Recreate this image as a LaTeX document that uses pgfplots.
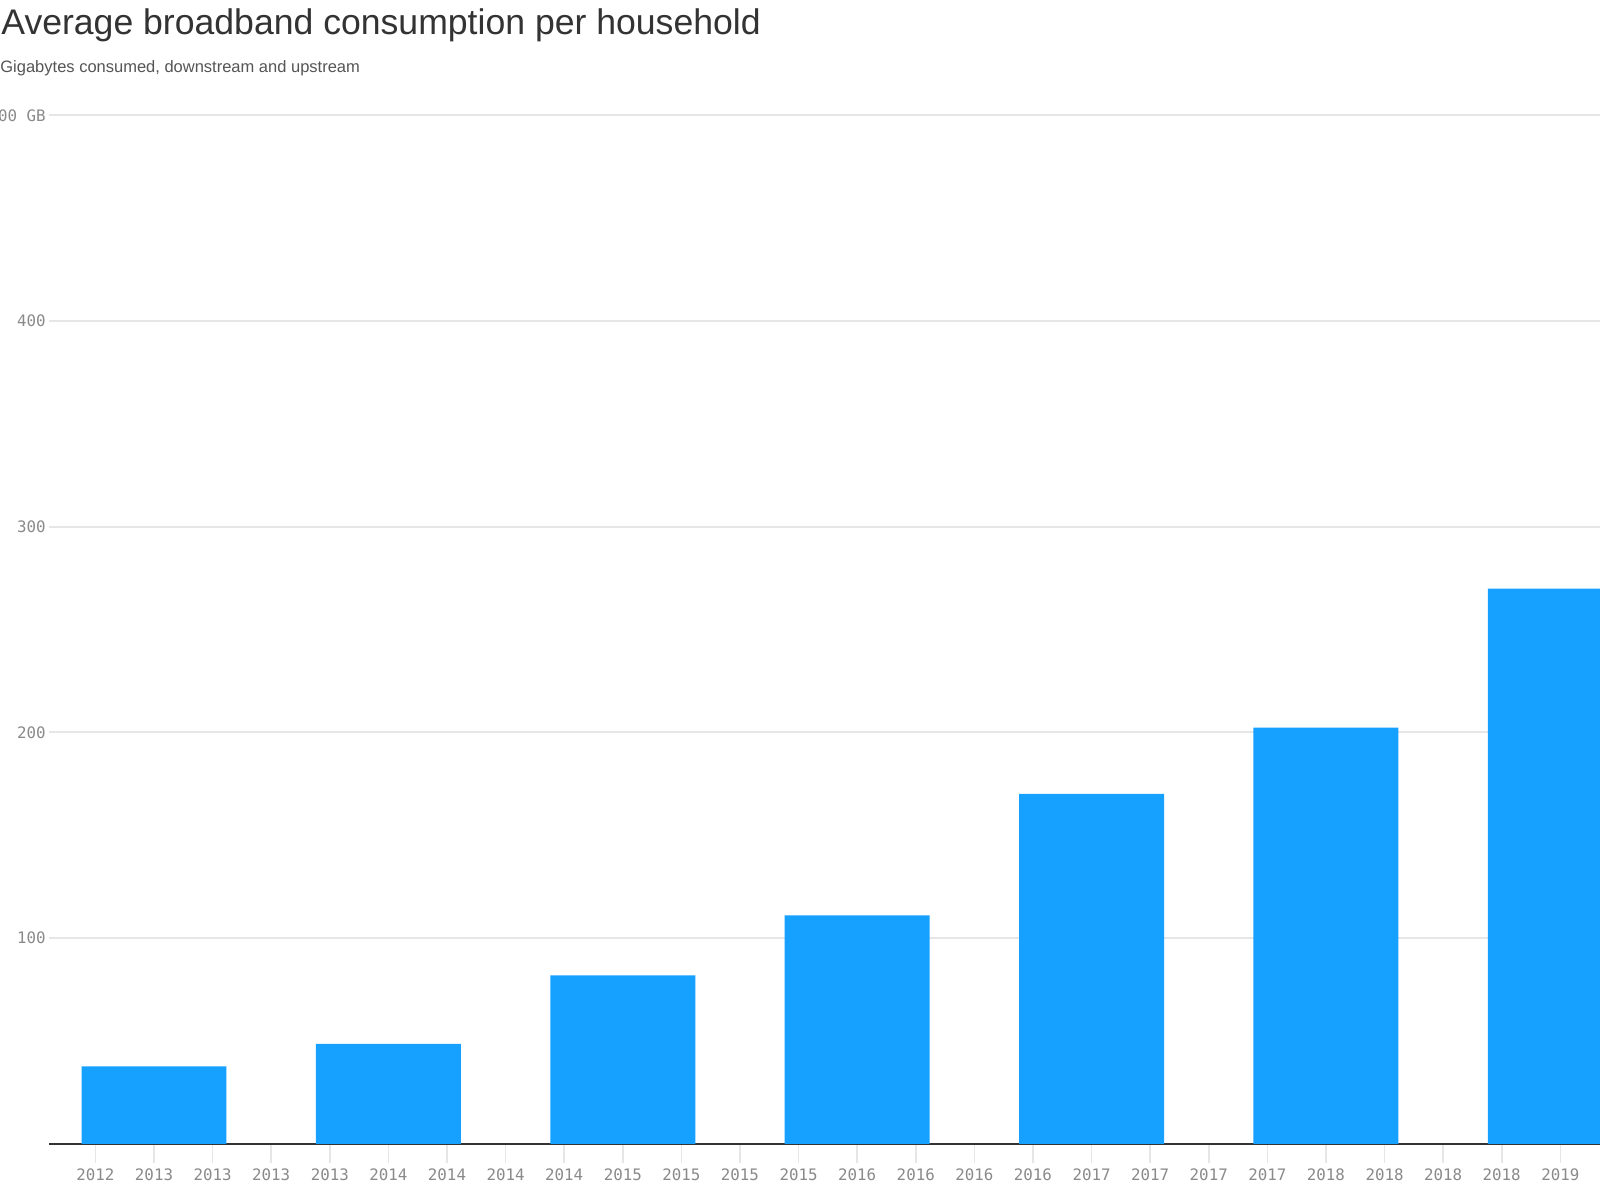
\documentclass[border=0pt]{standalone}
\usepackage{pgfplots}
\pgfplotsset{compat=1.18}
\usepackage{fontspec}
\setmainfont{Liberation Sans}
\newfontfamily\monofont{DejaVu Sans Mono}
\definecolor{barblue}{HTML}{16A0FF}
\definecolor{gridgray}{HTML}{E6E6E6}
\definecolor{ticktext}{HTML}{8A8A8A}
\definecolor{titletext}{HTML}{333333}
\definecolor{subtext}{HTML}{555555}

\begin{document}
\begin{tikzpicture}[x=1pt,y=1pt]
% page is 800pt x 600pt, i.e. 2 px per pt
\useasboundingbox (0,0) rectangle (800,600);
\fill[white] (0,0) rectangle (800,600);
\node[anchor=base west, inner sep=0, text=titletext, font=\fontsize{17.8}{20}\selectfont]
  at (0.5,582.5) {Average broadband consumption per household};
\node[anchor=base west, inner sep=0, text=subtext, font=\fontsize{8.25}{10}\selectfont]
  at (0,563.8) {Gigabytes consumed, downstream and upstream};
\begin{axis}[
  at={(24.5pt,28.05pt)}, anchor=south west,
  width=795.5pt, height=514.3pt, scale only axis,
  xmin=-0.792, xmax=26.36, ymin=0, ymax=500,
  ybar, bar width=2.474,
  axis line style={draw=none},
  xtick={0,...,25},
  xticklabels={2012,2013,2013,2013,2013,2014,2014,2014,2014,2015,2015,2015,2015,
    2016,2016,2016,2016,2017,2017,2017,2017,2018,2018,2018,2018,2019},
  ytick={100,200,300,400,500},
  yticklabels={100,200,300,400,500 GB},
  xtick pos=bottom, tick align=outside,
  major tick length=9.5pt,
  xtick style={draw=gridgray, line width=0.8pt},
  ytick style={draw=none},
  ymajorgrids,
  major grid style={draw=gridgray, line width=1pt},
  extra y ticks={0}, extra y tick labels={},
  extra y tick style={major grid style={draw=titletext, line width=1pt}},
  ticklabel style={font=\monofont\fontsize{7.9}{9}\selectfont, text=ticktext},
  xticklabel style={anchor=base, inner sep=0pt, yshift=-9pt},
  yticklabel style={anchor=east, inner sep=0pt, xshift=8pt},
]
\addplot[fill=barblue, draw=none] coordinates {
  (1,37.7) (5,48.6) (9,81.9) (13,111.1) (17,170.1) (21,202.4) (25,269.9)
};
\end{axis}
\end{tikzpicture}
\end{document}
